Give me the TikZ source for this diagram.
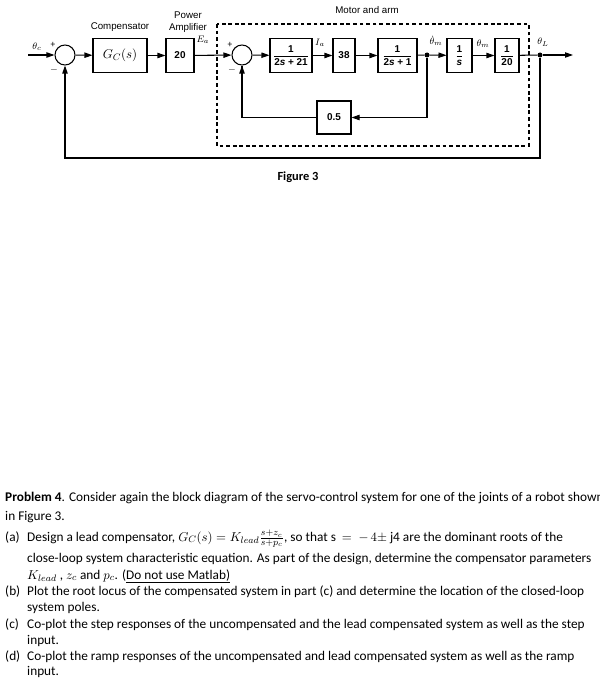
\documentclass[tikz,border=0pt]{standalone}
\usepackage{amsmath}
\usepackage{fontspec}
\setmainfont{Carlito}
\newfontfamily\diagfont{Liberation Sans}
\usetikzlibrary{arrows.meta,positioning,calc}
\tikzset{
  >={Triangle[length=2.4mm,width=1.6mm]},
  block/.style={draw,line width=.9pt,minimum height=10.2mm,inner sep=1pt,font=\diagfont\fontsize{8.5}{10}\bfseries\selectfont},
  sumnode/.style={draw,circle,line width=.9pt,minimum size=6mm,inner sep=0pt},
  tap/.style={circle,fill,minimum size=1.5mm,inner sep=0pt},
  sig/.style={->,line width=.9pt},
  wire/.style={line width=.9pt},
  lbl/.style={font=\diagfont\fontsize{8.3}{10}\selectfont,inner sep=0pt},
  sgn/.style={font=\fontsize{8}{9}\selectfont,inner sep=0pt},
  para/.style={anchor=base west,font=\fontsize{11.35}{13}\selectfont,inner sep=0pt},
}
\newcommand{\blkfrac}[2]{$\dfrac{\text{#1}}{\text{#2}}$}

\begin{document}
\begin{tikzpicture}[x=0.3mm,y=-0.3mm]
  \useasboundingbox (0,0) rectangle (599,679);

  % forward path
  \coordinate (in) at (28,55);
  \node[sumnode] (sum1) at (65,55) {};
  \node[block,minimum width=16.2mm] (gc) at (120,55.5) {\normalfont\fontsize{11}{13}\selectfont$G_C(s)$};
  \node[block,minimum width=8.4mm] (amp) at (180,55.5) {20};
  \node[sumnode] (sum2) at (242,55) {};
  \node[block,minimum width=12.6mm] (ga) at (291,55.5) {\blkfrac{1}{2\textit{s} + 21}};
  \node[block,minimum width=6.6mm] (k38) at (344,55.5) {38};
  \node[block,minimum width=11.7mm] (gb) at (397.5,55.5) {\blkfrac{1}{2\textit{s} + 1}};
  \node[tap] (tap1) at (427,55) {};
  \node[block,minimum width=7.5mm] (gi) at (459.5,55.5) {\blkfrac{1}{\textit{s}}};
  \node[block,minimum width=7.2mm] (gl) at (507,55.5) {\blkfrac{1}{20}};
  \node[tap] (tap2) at (540,55) {};
  \coordinate (out) at (573,55);

  % feedback
  \node[block,minimum width=10.2mm,minimum height=9.9mm] (kf) at (334,117.5) {0.5};
  \coordinate (fb) at (540,158);

  \draw[sig] (in) -- (sum1);
  \draw[sig] (sum1) -- (gc);
  \draw[sig] (gc) -- (amp);
  \draw[sig] (amp) -- (sum2);
  \draw[sig] (sum2) -- (ga);
  \draw[sig] (ga) -- (k38);
  \draw[sig] (k38) -- (gb);
  \draw[wire] (gb) -- (tap1);
  \draw[sig] (tap1) -- (gi);
  \draw[sig] (gi) -- (gl);
  \draw[wire] (gl) -- (tap2);
  \draw[sig] (tap2) -- (out);
  \draw[sig] (tap1) |- (kf);
  \draw[wire] (kf.west) -| (sum2.south);
  \draw[sig] ($(sum2.south)+(0,30)$) -- (sum2.south);
  \draw[wire] (tap2) -- (fb) -| ($(sum1.south)+(0,30)$);
  \draw[sig] ($(sum1.south)+(0,30)$) -- (sum1.south);

  % motor and arm
  \draw[line width=.9pt,dash pattern=on 3.2pt off 2.4pt] (217,24) rectangle (529,146);

  % labels
  \node[lbl] (thc) at (37,47) {$\theta_c$};
  \node[sgn] (p1) at (53,45) {+};
  \node[sgn] (m1) at (54,70) {$-$};
  \node[sgn] (p2) at (230,45) {+};
  \node[sgn] (m2) at (232,70) {$-$};
  \node[lbl] (comp) at (120,27) {Compensator};
  \node[lbl] (pow) at (188,15.5) {Power};
  \node[lbl] (ampl) at (188,28) {Amplifier};
  \node[lbl] (ea) at (203,40) {$E_a$};
  \node[lbl] (mot) at (367,10) {Motor and arm};
  \node[lbl] (ia) at (320,43) {$I_a$};
  \node[lbl] (thmd) at (436,41) {$\dot\theta_m$};
  \node[lbl] (thm) at (483,44) {$\theta_m$};
  \node[lbl] (thl) at (543,42) {$\theta_L$};
  \node[font=\bfseries\fontsize{10.6}{12}\selectfont] (fig) at (298,177) {Figure 3};

  % problem text
  \node[para] (t1) at (5,501) {\textbf{Problem 4}. Consider again the block diagram of the servo-control system for one of the joints of a robot shown};
  \node[para] (t2) at (5,520) {in Figure 3.};
  \node[para] (a0) at (5,541) {(a)};
  \node[para] (a1) at (27,541) {Design a lead compensator, $G_C(s)=K_{lead}\frac{s+z_c}{s+p_c}$, so that s\ \ $=\ -\,4\pm$ j4 are the dominant roots of the};
  \node[para] (a2) at (27,562) {close-loop system characteristic equation. As part of the design, determine the compensator parameters};
  \node[para] (a3) at (27,579) {$K_{lead}$ , $z_c\ \mathrm{and}\ p_c$. (\underline{Do not use Matlab)}};
  \node[para] (b0) at (5,595) {(b)};
  \node[para] (b1) at (27,595) {Plot the root locus of the compensated system in part (c) and determine the location of the closed-loop};
  \node[para] (b2) at (27,611) {system poles.};
  \node[para] (c0) at (5,628) {(c)};
  \node[para] (c1) at (27,628) {Co-plot the step responses of the uncompensated and the lead compensated system as well as the step};
  \node[para] (c2) at (27,644) {input.};
  \node[para] (d0) at (5,660) {(d)};
  \node[para] (d1) at (27,660) {Co-plot the ramp responses of the uncompensated and lead compensated system as well as the ramp};
  \node[para] (d2) at (27,675) {input.};
\end{tikzpicture}
\end{document}
